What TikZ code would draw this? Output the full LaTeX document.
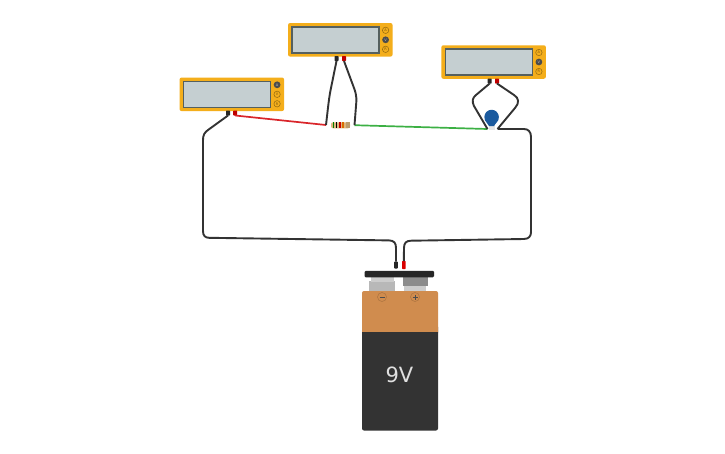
\documentclass[tikz,border=0pt]{standalone}
\usepackage{fontspec}
\setmainfont{DejaVu Sans}
\definecolor{meterY}{HTML}{F4AE1B}
\definecolor{screenC}{HTML}{C5CFD1}
\definecolor{screenE}{HTML}{55605F}
\definecolor{wireK}{HTML}{333333}
\definecolor{wireR}{HTML}{D9252A}
\definecolor{wireG}{HTML}{3CB044}
\definecolor{battO}{HTML}{D08C4E}
\definecolor{battK}{HTML}{333333}
\definecolor{capB}{HTML}{1B5A9E}
\definecolor{resB}{HTML}{DDB67E}
\tikzset{
  x=1pt,y=-1pt,
  box/.style={rectangle,inner sep=0,outer sep=0,minimum width=#1},
  meterbody/.style={box=104.5pt,minimum height=33.5pt,fill=meterY,rounded corners=2pt},
  screen/.style={box=87pt,minimum height=26pt,fill=screenC,draw=screenE,line width=1.5pt},
  dial/.style={circle,inner sep=0,minimum size=6.4pt,draw=black!40!meterY,line width=.5pt,font=\fontsize{3.5}{3.5}\selectfont,text=black!50!meterY},
  dialon/.style={circle,inner sep=0,minimum size=6.8pt,fill=black!70,font=\fontsize{3.5}{3.5}\selectfont,text=black!25},
  termK/.style={box=4pt,minimum height=5pt,fill=black!85,rounded corners=.6pt},
  termR/.style={box=4pt,minimum height=5pt,fill=red!75!black,rounded corners=.6pt},
  wire/.style={line width=1.9pt,draw=wireK,line join=round},
  wirer/.style={line width=1.7pt,draw=wireR},
  wireg/.style={line width=1.7pt,draw=wireG},
  blk/.style={rectangle,inner sep=0,outer sep=0},
}
\newcommand{\meter}[5]{%
  \node[meterbody] (#1) at (#2,#3) {};
  \node[screen] (#1s) at (#2-4.7,#3) {};
  \node[#4] (#1a) at (#2+45.3,#3-9.5) {A};
  \node[#5] (#1v) at (#2+45.3,#3) {V};
}
\begin{document}
\begin{tikzpicture}
\useasboundingbox (0,0) rectangle (725,453);
\fill[white] (0,0) rectangle (725,453);
% meters
\meter{ma}{231.8}{94.3}{dialon}{dial}
\node[dial] (mar) at (277.1,103.8) {R};
\meter{mb}{340.3}{39.8}{dial}{dialon}
\node[dial] (mbr) at (385.6,49.3) {R};
\meter{mc}{493.6}{62}{dial}{dialon}
\node[dial] (mcr) at (538.9,71.5) {R};
% meter terminals
\node[termK] (mak) at (228,113) {};
\node[termR] (mar2) at (235.2,113) {};
\node[termK] (mbk) at (336.5,58.5) {};
\node[termR] (mbr2) at (344,58.5) {};
\node[termK] (mck) at (489.7,81) {};
\node[termR] (mcr2) at (497,81) {};
% battery
\node[blk,fill=black!28,minimum width=26pt,minimum height=10pt] (tl) at (382,286) {};
\node[blk,fill=black!20,minimum width=23pt,minimum height=5pt] (tlu) at (382.5,279.5) {};
\node[blk,fill=black!20,minimum width=22pt,minimum height=6pt] (tr) at (415,288) {};
\node[blk,fill=black!45,minimum width=25pt,minimum height=9pt] (tru) at (415,281.5) {};
\node[blk,fill=black!85,rounded corners=1.2pt,minimum width=69.5pt,minimum height=6.5pt] (plate) at (399.3,274) {};
\fill[battK,rounded corners=2pt] (362,325) rectangle (438,430.5);
\fill[battO,rounded corners=2pt] (362,291) rectangle (438,335);
\fill[battK] (362,332) rectangle (438,340);
\node[circle,inner sep=0,minimum size=9pt,draw=black!18!battO,line width=.5pt] (minus) at (382,297) {};
\node[circle,inner sep=0,minimum size=9pt,draw=black!18!battO,line width=.5pt] (plus) at (415,297) {};
\draw[black!70,line width=.8pt] (379.5,297) -- (384.5,297) (412.5,297) -- (417.5,297) (415,294.5) -- (415,299.5);
\node[inner sep=0,text=white!88!black,font=\fontsize{21}{21}\selectfont] (nine) at (399.5,374.5) {9V};
\node[termK,minimum width=3.6pt,minimum height=7pt] (bk) at (396,265) {};
\node[termR,minimum width=3.6pt,minimum height=8pt,fill=red!85!black] (br) at (403.8,265) {};
% resistor
\coordinate (rl) at (326,125);
\coordinate (rr) at (354.5,125.2);
\coordinate (cl) at (487.5,129);
\coordinate (cr) at (497.5,129);
\draw[wireg] (rr) -- (cl);
\node[blk,fill=resB,rounded corners=2pt,minimum width=19pt,minimum height=6pt] (res) at (340.5,125.3) {};
\fill[black!15!resB] (345.5,122.2) rectangle (350,128.4);
\fill[green!50!black] (333.2,122.4) rectangle (334.4,128.2);
\fill[black] (335.6,122.4) rectangle (337.3,128.2);
\fill[red!80!black] (339,122.4) rectangle (341,128.2);
\fill[orange!85!black] (342.2,122.4) rectangle (343.6,128.2);
% capacitor
\fill[black!10] (488.5,122) rectangle (495,130);
\fill[capB] (489,126) -- (484.6,119.5) -- (498.6,119.5) -- (494,126) -- cycle;
\node[blk,circle,fill=capB,minimum size=14.5pt] (cap) at (491.6,117) {};
% wires
\draw[wire] (mak.south) -- (208,130) .. controls (204.5,132.5) and (203,135) .. (203,140)
  -- (203,231) .. controls (203,235.5) and (205,237.7) .. (209,237.8)
  -- (389,240.4) .. controls (394,240.5) and (396,243) .. (396,248) -- (bk.north);
\draw[wire] (br.north) -- (404,248) .. controls (404,243) and (406,240.8) .. (411,240.7)
  -- (524,239) .. controls (529,238.9) and (531,236) .. (531,232)
  -- (531,137) .. controls (531,132) and (528.5,129) .. (524,129) -- (cr);
\draw[wirer] (mar2.south) -- (rl);
\draw[wire] (mbk.south) -- (331,88) .. controls (329,97) and (328,108) .. (rl);
\draw[wire] (mbr2.south) -- (354,88) .. controls (357,96) and (356.5,100) .. (356,106) -- (rr);
\draw[wire] (mck.south) -- (476,95) .. controls (472,98) and (472,102) .. (474,106) -- (cl);
\draw[wire] (mcr2.south) -- (514,95) .. controls (519,98) and (519.5,103) .. (515,108) -- (cr);
\end{tikzpicture}
\end{document}
